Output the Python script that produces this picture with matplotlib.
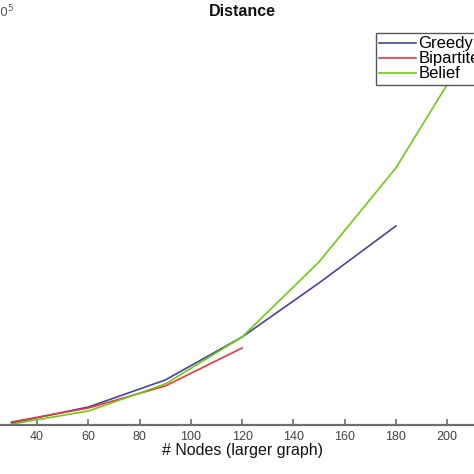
import matplotlib
matplotlib.use("Agg")
import matplotlib.pyplot as plt

plt.rcParams['font.family'] = ['Liberation Sans', 'DejaVu Sans']

# Data (values in units of 1e5)
x_greedy = [30, 60, 90, 120, 150, 180]
greedy = [0.02, 0.18, 0.45, 0.88, 1.42, 1.99]
x_bip = [30, 60, 90, 120]
bipartite = [0.03, 0.17, 0.39, 0.77]
x_belief = [30, 60, 90, 120, 150, 180, 210]
belief = [0.01, 0.14, 0.41, 0.88, 1.63, 2.57, 3.82]
xticks = [40, 60, 80, 100, 120, 140, 160, 180, 200]
labels = ['Greedy', 'Bipartite', 'Belief']

W = H = 474
fig = plt.figure(figsize=(4.74, 4.74), dpi=100)
ax = fig.add_axes([0, 1 - 425 / H, 1, (425 - 25) / H])

ax.plot(x_greedy, greedy, color='#4343a6', lw=1.2, label=labels[0])
ax.plot(x_bip, bipartite, color='#e8383c', lw=1.2, label=labels[1])
ax.plot(x_belief, belief, color='#6ccc10', lw=1.2, label=labels[2])

ax.set_xlim(25.5, 210.5)
ax.set_ylim(0, 4)
ax.set_xticks(xticks)
ax.set_yticks([])
for s in ['left', 'right', 'top']:
    ax.spines[s].set_visible(False)
ax.spines['bottom'].set_color('#6e6e6e')
ax.spines['bottom'].set_linewidth(1.6)
ax.tick_params(axis='x', direction='in', length=4, width=1.2, color='#6e6e6e',
               labelsize=9, labelcolor='#444444', pad=4)

fig.text(242 / W, 1 - 450 / H, '# Nodes (larger graph)', ha='center', va='center',
         fontsize=11.5, color='#111111')
fig.text(242 / W, 1 - 11 / H, 'Distance', ha='center', va='center',
         fontsize=11.5, fontweight='bold', color='#111111')
fig.text(14.5 / W, 1 - 12 / H, r'$\times10^{5}$', ha='right', va='center',
         fontsize=9, color='#555555')

leg = ax.legend(loc='upper left', bbox_to_anchor=(376 / W, 1 - 33 / H),
                bbox_transform=fig.transFigure, borderaxespad=0,
                fontsize=12, labelspacing=0.0, handlelength=2.2,
                handletextpad=0.15, borderpad=0.2, fancybox=False,
                framealpha=1, edgecolor='#555555')
leg.get_frame().set_linewidth(1.0)

fig.savefig('out.png', dpi=100)
